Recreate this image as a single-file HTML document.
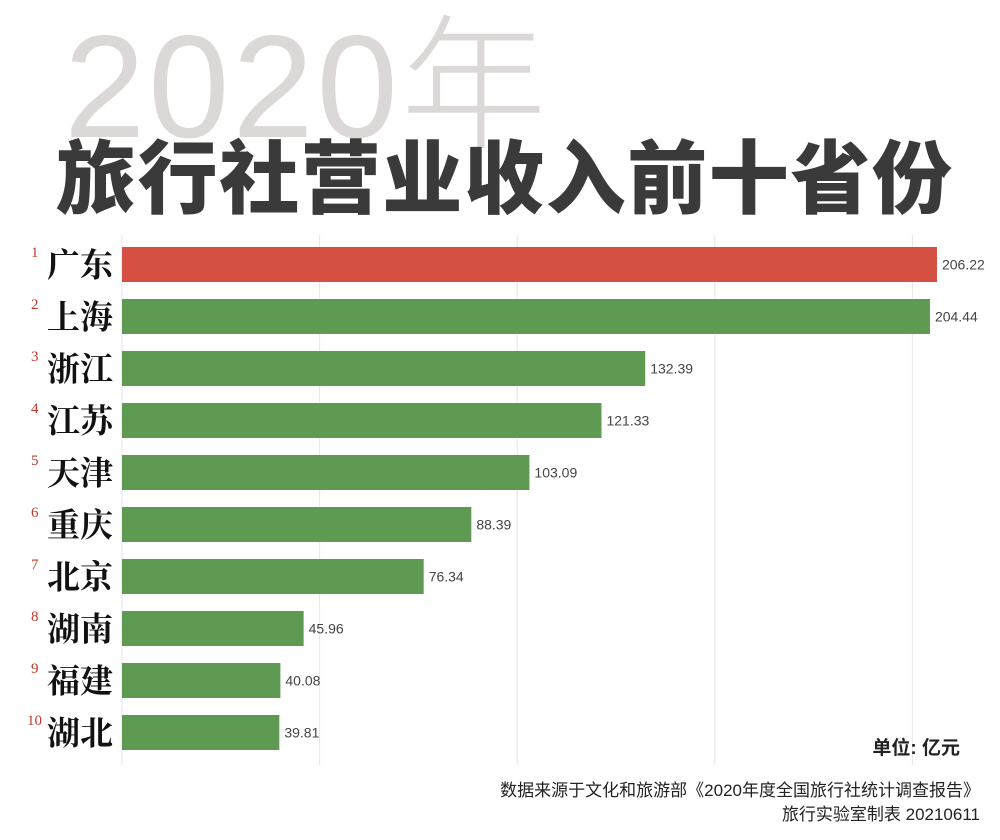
<!DOCTYPE html>
<html><head><meta charset="utf-8">
<style>
body{margin:0;width:1000px;height:840px;background:#fff;overflow:hidden;position:relative;font-family:"Liberation Sans","Noto Sans CJK SC",sans-serif}
.bg{position:absolute;left:64px;top:2px;font-size:146px;color:#dcd8d8;font-weight:300;letter-spacing:3px;line-height:170px;font-family:"Liberation Sans","Noto Sans CJK SC",sans-serif}
.title{position:absolute;left:56px;top:132px;width:920px;font-size:80px;font-weight:900;color:#3a3a3a;line-height:96px;white-space:nowrap;letter-spacing:1.6px}
.foot{position:absolute;right:20px;font-size:17px;color:#222;text-align:right}
</style></head><body>
<div class="bg">2020年</div>
<div class="title">旅行社营业收入前十省份</div>
<svg id="chart" width="1000" height="840" style="position:absolute;left:0;top:0"></svg>
<div class="foot" style="top:733px;right:40px;font-size:19px;font-weight:bold">单位: 亿元</div>
<div class="foot" style="top:776px">数据来源于文化和旅游部《2020年度全国旅行社统计调查报告》</div>
<div class="foot" style="top:800px">旅行实验室制表 20210611</div>
<script>
const provinces=["广东","上海","浙江","江苏","天津","重庆","北京","湖南","福建","湖北"];
const values=[206.22,204.44,132.39,121.33,103.09,88.39,76.34,45.96,40.08,39.81];
const labels=["206.22","204.44","132.39","121.33","103.09","88.39","76.34","45.96","40.08","39.81"];
const gridTicks=[0,50,100,150,200];
const ns="http://www.w3.org/2000/svg";
const svg=document.getElementById('chart');
const x0=122,scale=3.952,y0=247,step=52,bh=35;
const xs=v=>x0+v*scale, ys=i=>y0+i*step;
function mk(t,a){const e=document.createElementNS(ns,t);for(const k in a)e.setAttribute(k,a[k]);svg.appendChild(e);return e;}
gridTicks.forEach(t=>{
 const g=mk('line',{x1:xs(t),x2:xs(t),y1:235,y2:765,stroke:'#e6e6e6','stroke-width':1});
 
 
});
values.forEach((v,i)=>{
 const r=mk('rect',{x:x0,y:ys(i),width:xs(v)-x0,height:bh,fill:i===0?'#d55042':'#5e9a52'});
 
 
 const t=mk('text',{x:xs(v)+5,y:ys(i)+bh/2+5,'font-size':14,fill:'#444'});
 t.textContent=labels[i];
 
 
 const n=mk('text',{x:i===9?27:31,y:ys(i)+10,'font-size':15,fill:'#c0392b','font-family':'Liberation Serif,serif'});
 n.textContent=String(i+1);
 
 
 const c=mk('text',{x:113,y:ys(i)+bh/2+12,'font-size':33,'text-anchor':'end',fill:'#111','font-family':'Noto Serif CJK SC,serif','font-weight':'bold'});
 c.textContent=provinces[i];
 
 
});
</script>
</body></html>
